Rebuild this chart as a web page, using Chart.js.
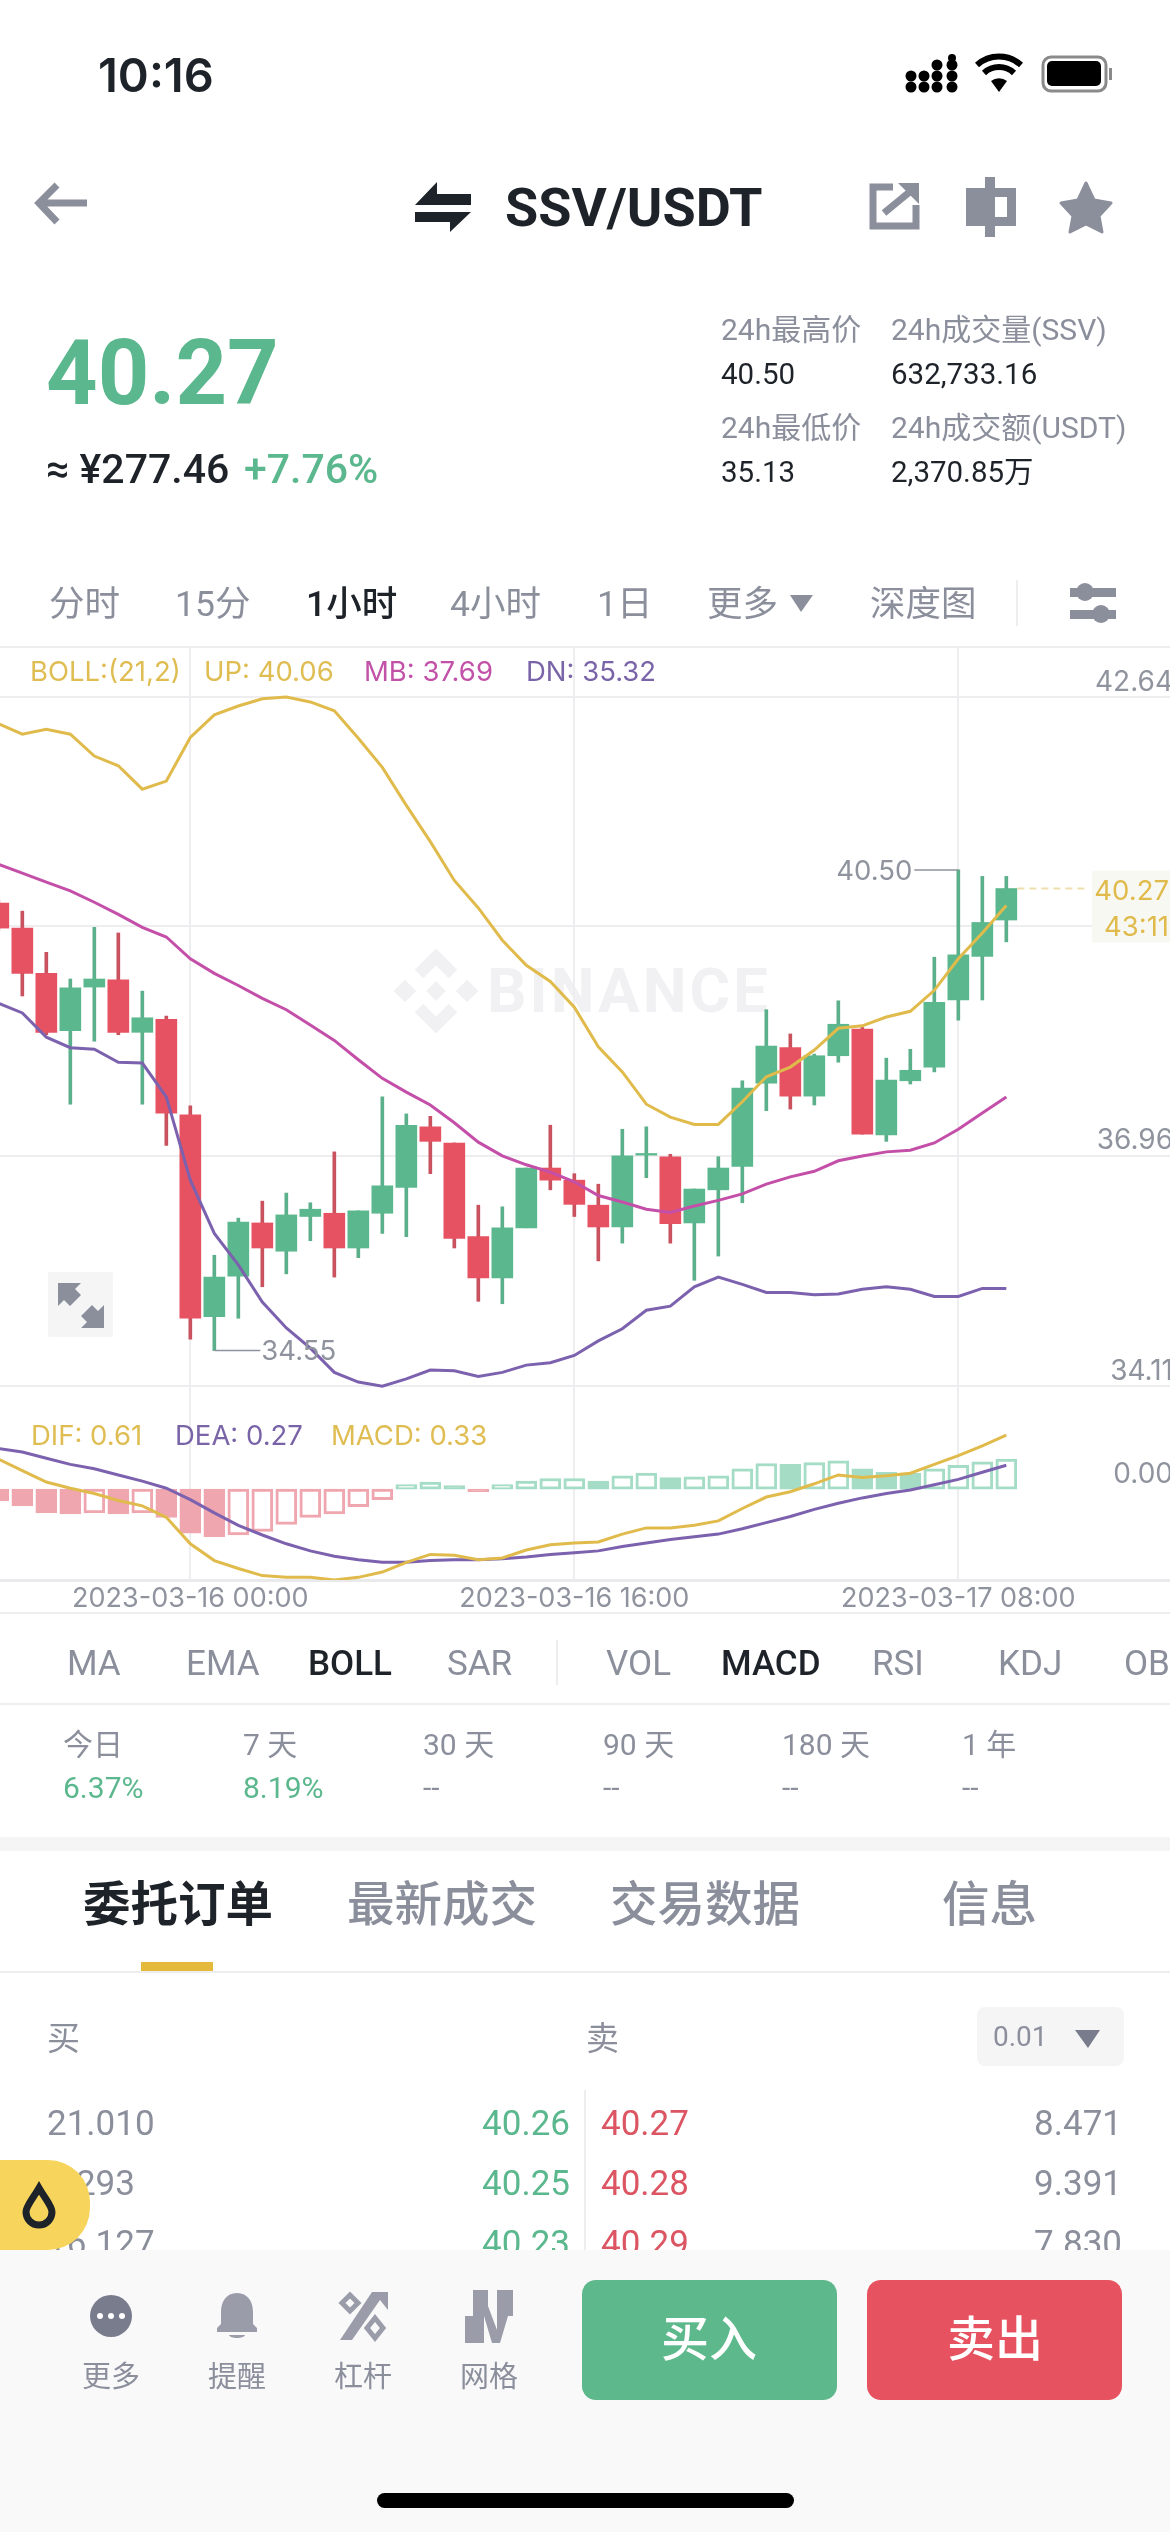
<!DOCTYPE html>
<html lang="zh-CN">
<head>
<meta charset="utf-8">
<title>SSV/USDT</title>
<script src="https://cdn.jsdelivr.net/npm/chart.js@4"></script>
<style>
  html, body { margin: 0; padding: 0; background: #fff; }
  #page { position: relative; width: 1170px; height: 2532px; overflow: hidden; background: #fff;
    font-family: Roboto, "Noto Sans CJK SC", sans-serif; color: #8B8F9C; }
  .t { position: absolute; white-space: nowrap; line-height: 1; transform: translateY(-50%); }
  .r { transform: translate(-100%, -50%); }
  .c { transform: translate(-50%, -50%); }
  .in { font-family: Inter, "Noto Sans CJK SC", sans-serif; font-size: 27.5px; }
  .tab { font-size: 35.5px; top: 605px; }
  .ind { font-size: 35px; top: 1663px; }
  .per { font-size: 30px; top: 1745px; }
  .pv { font-size: 30px; top: 1788px; }
  .head { font-size: 47.5px; top: 1906px; font-weight: 500; }
  .ob { font-size: 35px; }
  .hd { font-size: 33px; }
  .num { font-size: 29.5px; }
  .dark { color: #1E2329; }
  .up { color: #5BB78D; }
  .down { color: #DC5563; }
  .line { position: absolute; left: 0; width: 1170px; height: 2px; background: #EEEEF0; }
  .foot { font-size: 29px; top: 2377px; }
  #wm { position: absolute; left: 0; top: 0; z-index: 0; }
  #wmText { position: absolute; left: 487px; top: 991px; font-size: 62px; font-weight: 700; letter-spacing: 3px;
    color: #F1F1F3; transform: translateY(-50%); line-height: 1; z-index: 0; font-family: Roboto, sans-serif; }
  #klines { position: absolute; left: 0; top: 647px; z-index: 1; }
  #over { position: absolute; left: 0; top: 0; z-index: 2; }
  #texts { position: absolute; left: 0; top: 0; width: 1170px; height: 2532px; z-index: 3; }
  #tray { position: absolute; left: 0; top: 2250px; width: 1170px; height: 282px; background: #F9F9FA; z-index: 3; }
</style>
</head>
<body>
<div id="page">
  <svg id="wm" width="1170" height="2532">
    <g fill="#F1F1F3" transform="translate(436 991) rotate(45)">
      <rect x="-7" y="-7" width="14" height="14"/>
      <path d="M-30 -30h30v12h-18v18h-12z"/>
      <path d="M30 30h-30v-12h18v-18h12z"/>
      <rect x="14" y="-30" width="16" height="16"/>
      <rect x="-30" y="14" width="16" height="16"/>
    </g>
  </svg>
  <div id="wmText">BINANCE</div>
  <canvas id="klines" width="1170" height="967" style="width:1170px;height:967px"></canvas>

  <svg id="over" width="1170" height="2532">
    <!-- status bar -->
    <g fill="#000">
      <circle cx="911" cy="87" r="5.5"/><circle cx="911" cy="76" r="5.5"/>
      <circle cx="924" cy="87" r="5.5"/><circle cx="924" cy="76" r="5.5"/>
      <circle cx="937" cy="87" r="5.5"/><circle cx="937" cy="76" r="5.5"/><circle cx="937" cy="65" r="5.5"/>
      <circle cx="952" cy="87" r="5.5"/><circle cx="952" cy="76" r="5.5"/><circle cx="952" cy="65" r="5.5"/><circle cx="952" cy="58" r="4"/>
      <path d="M999 92l-8-11a13 13 0 0 1 16 0z"/>
      <rect x="1047" y="61" width="54" height="25" rx="5"/>
    </g>
    <g fill="none" stroke="#000" stroke-width="6">
      <path d="M984 73a22 22 0 0 1 30 0"/>
      <path d="M977 65a33 33 0 0 1 44 0"/>
    </g>
    <rect x="1043" y="57" width="63" height="34" rx="8" fill="none" stroke="#8A8A8A" stroke-width="3"/>
    <rect x="1109" y="68" width="3" height="12" fill="#8A8A8A"/>

    <!-- header icons -->
    <path d="M87 203H40M57 185L39 203L57 222" fill="none" stroke="#8B8F9C" stroke-width="7"/>
    <path d="M415 205L437 182V194H471V205ZM471 212L450 232V222H415V212Z" fill="#1E2329"/>
    <path d="M893 187H873V226H916V205" fill="none" stroke="#8B8F9C" stroke-width="7"/>
    <path d="M884 213L912 190" stroke="#8B8F9C" stroke-width="7"/>
    <path d="M898 183H919V204Z" fill="#8B8F9C"/>
    <rect x="966" y="188" width="50" height="38" fill="#8B8F9C"/>
    <rect x="985" y="177" width="10" height="60" fill="#8B8F9C"/>
    <rect x="995" y="197" width="12" height="20" fill="#fff"/>
    <path d="M1086 183L1094 200L1111 203L1099 216L1102 232L1086 224L1070 232L1073 216L1061 203L1078 200Z" fill="#8B8F9C" stroke="#8B8F9C" stroke-width="3" stroke-linejoin="round"/>

    <!-- tab icons -->
    <path d="M790 595H813L801 612Z" fill="#8B8F9C"/>
    <rect x="1016" y="580" width="2" height="46" fill="#EEEEF0"/>
    <g fill="#8B8F9C">
      <rect x="1070" y="588" width="46" height="9"/><circle cx="1085" cy="592" r="9"/>
      <rect x="1070" y="610" width="46" height="9"/><circle cx="1101" cy="614" r="9"/>
    </g>

    <!-- expand button -->
    <rect x="48" y="1272" width="65" height="65" fill="#F5F5F6" rx="2"/>
    <g fill="#8B8F9C">
      <path d="M58 1283H81L75 1289L81 1295L70 1306L64 1300L58 1306Z"/>
      <path d="M104 1328H81L87 1322L81 1316L92 1305L98 1311L104 1305Z"/>
    </g>

    <!-- depth selector + order book -->
    <rect x="977" y="2007" width="147" height="59" rx="8" fill="#F5F5F6"/>
    <path d="M1075 2030H1100L1088 2048Z" fill="#787C8C"/>
    <rect x="584" y="2090" width="2" height="160" fill="#EEEEF0"/>
    <rect x="141" y="1962" width="72" height="9" fill="#E5B93B"/>
  </svg>

  <div id="texts">
    <div class="t dark" style="left:98px;top:74px;font-size:47px;font-family:Inter,sans-serif;font-weight:600">10:16</div>
    <div class="t dark" style="left:505px;top:208px;font-size:54px;font-weight:700">SSV/USDT</div>

    <div class="t up" style="left:46px;top:374px;font-size:90px;font-weight:700">40.27</div>
    <div class="t dark" style="left:46px;top:469px;font-size:41px;font-weight:500">≈ ¥277.46</div>
    <div class="t up" style="left:244px;top:469px;font-size:41px;font-weight:500">+7.76%</div>

    <div class="t" style="left:721px;top:330px;font-size:30px">24h最高价</div>
    <div class="t dark num" style="left:721px;top:375px">40.50</div>
    <div class="t" style="left:721px;top:428px;font-size:30px">24h最低价</div>
    <div class="t dark num" style="left:721px;top:473px">35.13</div>
    <div class="t" style="left:891px;top:330px;font-size:30px">24h成交量(SSV)</div>
    <div class="t dark num" style="left:891px;top:375px">632,733.16</div>
    <div class="t" style="left:891px;top:428px;font-size:30px">24h成交额(USDT)</div>
    <div class="t dark num" style="left:891px;top:473px">2,370.85万</div>

    <div class="t tab" style="left:49px">分时</div>
    <div class="t tab" style="left:175px">15分</div>
    <div class="t tab dark" style="left:306px;font-weight:500">1小时</div>
    <div class="t tab" style="left:450px">4小时</div>
    <div class="t tab" style="left:597px">1日</div>
    <div class="t tab" style="left:707px">更多</div>
    <div class="t tab" style="left:870px">深度图</div>

    <div class="t in" style="left:30px;top:672px;color:#DFBD52">BOLL:(21,2)</div>
    <div class="t in" style="left:204px;top:672px;color:#DFBD52">UP: 40.06</div>
    <div class="t in" style="left:364px;top:672px;color:#C251A8">MB: 37.69</div>
    <div class="t in" style="left:526px;top:672px;color:#7A64A8">DN: 35.32</div>

    <div class="t in" style="left:31px;top:1436px;color:#DFBD52">DIF: 0.61</div>
    <div class="t in" style="left:175px;top:1436px;color:#7A64A8">DEA: 0.27</div>
    <div class="t in" style="left:331px;top:1436px;color:#DFBD52">MACD: 0.33</div>

    <div class="t ind" style="left:67px">MA</div>
    <div class="t ind" style="left:186px">EMA</div>
    <div class="t ind dark" style="left:308px;font-weight:500">BOLL</div>
    <div class="t ind" style="left:447px">SAR</div>
    <div class="t ind" style="left:606px">VOL</div>
    <div class="t ind dark" style="left:721px;font-weight:500">MACD</div>
    <div class="t ind" style="left:872px">RSI</div>
    <div class="t ind" style="left:998px">KDJ</div>
    <div class="t ind" style="left:1124px">OBV</div>

    <div class="t per" style="left:63px">今日</div>
    <div class="t per" style="left:243px">7 天</div>
    <div class="t per" style="left:423px">30 天</div>
    <div class="t per" style="left:603px">90 天</div>
    <div class="t per" style="left:782px">180 天</div>
    <div class="t per" style="left:962px">1 年</div>
    <div class="t pv up" style="left:63px">6.37%</div>
    <div class="t pv up" style="left:243px">8.19%</div>
    <div class="t pv" style="left:423px">--</div>
    <div class="t pv" style="left:603px">--</div>
    <div class="t pv" style="left:782px">--</div>
    <div class="t pv" style="left:962px">--</div>

    <div class="t head dark" style="left:83px;font-weight:700">委托订单</div>
    <div class="t head" style="left:347px">最新成交</div>
    <div class="t head" style="left:610px">交易数据</div>
    <div class="t head" style="left:942px">信息</div>

    <div class="t hd" style="left:47px;top:2038px">买</div>
    <div class="t hd" style="left:586px;top:2038px">卖</div>
    <div class="t" style="left:993px;top:2037px;font-size:28px">0.01</div>

    <div class="t ob" style="left:47px;top:2123px">21.010</div>
    <div class="t ob" style="left:47px;top:2183px">9.293</div>
    <div class="t ob" style="left:47px;top:2243px">16.127</div>
    <div class="t ob r up" style="left:570px;top:2123px">40.26</div>
    <div class="t ob r up" style="left:570px;top:2183px">40.25</div>
    <div class="t ob r up" style="left:570px;top:2243px">40.23</div>
    <div class="t ob down" style="left:601px;top:2123px">40.27</div>
    <div class="t ob down" style="left:601px;top:2183px">40.28</div>
    <div class="t ob down" style="left:601px;top:2243px">40.29</div>
    <div class="t ob r" style="left:1122px;top:2123px">8.471</div>
    <div class="t ob r" style="left:1122px;top:2183px">9.391</div>
    <div class="t ob r" style="left:1122px;top:2243px">7.830</div>

    <div style="position:absolute;left:0;top:2160px;width:90px;height:90px;background:#F7D55C;border-radius:0 42px 42px 0"></div>
    <svg style="position:absolute;left:0;top:2160px" width="90" height="90">
      <path d="M39 28C32 40 26 46 26 52A13 13 0 0 0 52 52C52 46 46 40 39 28Z" fill="none" stroke="#1E2329" stroke-width="7"/>
    </svg>
  </div>

  <div class="line" style="top:646px;z-index:2"></div>
  <div class="line" style="top:1612px;z-index:2"></div>
  <div class="line" style="top:1703px;z-index:2"></div>
  <div class="line" style="top:1971px;z-index:2"></div>
  <div style="position:absolute;left:0;top:1837px;width:1170px;height:14px;background:#F5F5F6;z-index:2"></div>
  <div style="position:absolute;left:556px;top:1640px;width:2px;height:45px;background:#EEEEF0;z-index:2"></div>

  <div id="tray">
    <svg width="1170" height="282" style="position:absolute;left:0;top:0">
      <g transform="translate(0 -2250)">
        <ellipse cx="111" cy="2316" rx="21" ry="21" fill="#787C8C"/>
        <g fill="#fff"><circle cx="100" cy="2316" r="3"/><circle cx="111" cy="2316" r="3"/><circle cx="122" cy="2316" r="3"/></g>
        <path d="M237 2293C226 2293 221 2302 221 2312V2324L217 2328V2332H257V2328L253 2324V2312C253 2302 248 2293 237 2293Z" fill="#9A9DA9"/>
        <path d="M229 2335H245C244 2339 230 2339 229 2335Z" fill="#9A9DA9"/>
        <path d="M340 2340L372 2292H388V2310L380 2300L352 2340Z" fill="#9A9DA9"/>
        <g fill="none" stroke="#9A9DA9" stroke-width="5">
          <path d="M350 2295L358 2303L350 2311L342 2303Z"/>
          <path d="M375 2318L383 2328L375 2338L367 2328Z"/>
        </g>
        <g fill="#9A9DA9">
          <path d="M473 2290H488V2306L497 2330V2290H513V2316H508L500 2343H492L484 2316V2343H465V2316H473Z"/>
        </g>
      </g>
    </svg>
    <div class="t foot" style="left:82px;top:127px">更多</div>
    <div class="t foot" style="left:208px;top:127px">提醒</div>
    <div class="t foot" style="left:334px;top:127px">杠杆</div>
    <div class="t foot" style="left:460px;top:127px">网格</div>
    <div style="position:absolute;left:582px;top:30px;width:255px;height:120px;border-radius:14px;background:#5DB88B"></div>
    <div style="position:absolute;left:867px;top:30px;width:255px;height:120px;border-radius:14px;background:#E6525F"></div>
    <div class="t c" style="left:709px;top:90px;font-size:48px;font-weight:500;color:#fff">买入</div>
    <div class="t c" style="left:995px;top:90px;font-size:48px;font-weight:500;color:#fff">卖出</div>
    <div style="position:absolute;left:377px;top:243px;width:417px;height:15px;border-radius:8px;background:#000"></div>
  </div>
</div>

<script>
// candles, oldest first, one per hour
const opens = [40.09,39.78,39.22,38.51,39.05,39.14,38.49,38.65,37.47,34.97,35.47,36.13,35.78,36.21,36.25,35.82,36.25,36.57,37.32,37.12,35.96,35.45,36.07,36.81,36.66,36.35,36.08,36.97,36.95,36.13,36.54,36.83,37.86,38.30,37.70,38.20,38.53,37.22,37.89,38.06,38.89,39.43,39.88];
const closes = [39.78,39.22,38.49,39.04,39.15,38.49,38.67,37.49,34.95,35.46,36.14,35.82,36.23,36.30,35.82,36.28,36.59,37.34,37.14,35.94,35.45,36.07,36.81,36.66,36.36,36.08,36.96,36.99,36.12,36.55,36.81,37.80,38.32,37.70,38.20,38.59,37.23,37.90,38.02,38.86,39.45,39.85,40.27];
const highs = [40.13,39.99,39.48,39.15,39.79,39.72,39.00,38.69,37.58,35.73,36.19,36.40,36.50,36.38,37.01,36.28,37.69,37.48,37.45,37.12,36.35,36.33,36.81,37.34,36.74,36.61,37.29,37.32,36.98,36.55,36.95,37.89,38.77,38.47,38.22,38.88,38.55,38.17,38.28,39.42,40.50,40.42,40.42];
const lows = [39.75,38.94,38.46,37.60,38.38,38.46,37.60,37.09,34.69,34.55,34.95,35.34,35.50,35.91,35.46,35.70,36.00,35.96,36.74,35.82,35.16,35.13,36.07,36.54,36.21,35.66,35.88,36.69,35.88,35.42,35.72,36.38,37.52,37.54,37.59,38.12,37.23,37.14,37.85,38.00,38.64,38.89,39.61];

const bollUp = [42.31,42.18,42.24,42.18,41.91,41.79,41.50,41.60,42.14,42.42,42.53,42.62,42.64,42.58,42.47,42.13,41.77,41.30,40.85,40.37,40.03,39.63,39.32,39.12,38.80,38.31,38.00,37.60,37.44,37.35,37.35,37.63,37.94,38.06,38.27,38.54,38.57,38.68,38.75,39.01,39.40,39.72,40.06];
const bollMid = [40.57,40.46,40.35,40.24,40.10,39.95,39.79,39.67,39.40,39.22,39.07,38.91,38.77,38.58,38.39,38.15,37.92,37.75,37.59,37.37,37.13,36.96,36.85,36.76,36.64,36.47,36.39,36.30,36.26,36.34,36.41,36.49,36.61,36.70,36.77,36.90,36.96,37.01,37.03,37.12,37.29,37.49,37.69];
const bollDn = [38.85,38.73,38.43,38.30,38.28,38.12,38.11,37.69,36.66,36.00,35.61,35.15,34.83,34.58,34.28,34.16,34.11,34.20,34.31,34.30,34.23,34.28,34.37,34.40,34.49,34.67,34.82,35.05,35.10,35.34,35.46,35.37,35.27,35.27,35.24,35.25,35.31,35.34,35.31,35.22,35.22,35.32,35.32];

const dif = [0.34,0.21,0.08,0.01,-0.05,-0.13,-0.19,-0.32,-0.62,-0.81,-0.90,-0.98,-1.00,-1.00,-1.03,-1.00,-0.94,-0.83,-0.74,-0.75,-0.80,-0.78,-0.69,-0.63,-0.61,-0.60,-0.51,-0.44,-0.44,-0.41,-0.36,-0.22,-0.09,-0.03,0.06,0.16,0.13,0.15,0.18,0.28,0.38,0.49,0.61];
const dea = [0.46,0.42,0.35,0.28,0.23,0.16,0.09,0.01,-0.12,-0.27,-0.41,-0.52,-0.62,-0.70,-0.76,-0.80,-0.83,-0.83,-0.81,-0.80,-0.80,-0.79,-0.77,-0.74,-0.72,-0.70,-0.65,-0.61,-0.57,-0.54,-0.51,-0.45,-0.38,-0.31,-0.23,-0.16,-0.10,-0.05,-0.01,0.05,0.11,0.19,0.27];
const macd = [-0.13,-0.19,-0.27,-0.28,-0.27,-0.28,-0.27,-0.32,-0.50,-0.54,-0.52,-0.48,-0.40,-0.32,-0.28,-0.20,-0.12,0.05,0.08,0.04,-0.03,0.05,0.09,0.12,0.12,0.09,0.15,0.18,0.13,0.14,0.15,0.23,0.29,0.28,0.30,0.32,0.23,0.19,0.18,0.23,0.27,0.31,0.34];

const priceTicks = [42.64, 39.80, 36.96, 34.11];
const macdTicks = [0];
const timeTickIndex = [8, 24, 40];
const timeTickLabels = ['2023-03-16 00:00', '2023-03-16 16:00', '2023-03-17 08:00'];
const countdown = '43:11';

const GREEN = '#5BB78D', RED = '#E65262';
const GREEN_WICK = '#5BAF8A', RED_WICK = '#C9525F';
const YELLOW = '#E0BB4C', MAGENTA = '#C44FA8', PURPLE = '#7C62AE';
const GRID = '#EEEEF0', LABEL = '#8F939E';
const CHART_FONT = 'Inter';

const isUp = i => closes[i] >= opens[i];
const hollow = i => i > 0 && macd[i] >= macd[i - 1];
const series = arr => arr.map((y, x) => ({ x, y }));
const bodies = opens.map((o, x) => ({ x, y: [Math.min(o, closes[x]), Math.max(o, closes[x])] }));
const wicks = highs.map((h, x) => ({ x, y: [lows[x], h] }));

function lineSet(data, color, axis) {
  return { type: 'line', data: series(data), yAxisID: axis, borderColor: color, borderWidth: 3, pointRadius: 0, tension: 0, order: 1 };
}

function zeroSize(scale) {
  scale.width = 0;
  scale.paddingTop = 0;
  scale.paddingBottom = 0;
}

// high / low leaders and the live price box
const priceMarks = {
  id: 'priceMarks',
  afterDatasetsDraw(chart) {
    const { ctx, scales: { x, y } } = chart;
    const hi = Math.max(...highs), lo = Math.min(...lows);
    const hiX = x.getPixelForValue(highs.indexOf(hi)), hiY = y.getPixelForValue(hi);
    const loX = x.getPixelForValue(lows.indexOf(lo)), loY = y.getPixelForValue(lo);
    const last = closes[closes.length - 1];
    const lastX = x.getPixelForValue(closes.length - 1), lastY = y.getPixelForValue(last);

    ctx.save();
    ctx.font = '27.5px ' + CHART_FONT;
    ctx.textBaseline = 'middle';
    ctx.lineWidth = 1.5;
    ctx.strokeStyle = '#8F939E';
    ctx.fillStyle = '#8F939E';

    ctx.beginPath();
    ctx.moveTo(hiX, hiY);
    ctx.lineTo(hiX - 44, hiY);
    ctx.moveTo(loX, loY);
    ctx.lineTo(loX + 46, loY);
    ctx.stroke();
    ctx.textAlign = 'right';
    ctx.fillText(hi.toFixed(2), hiX - 46, hiY + 2);
    ctx.textAlign = 'left';
    ctx.fillText(lo.toFixed(2), loX + 47, loY + 1);

    ctx.setLineDash([7, 5]);
    ctx.strokeStyle = '#F0DFAE';
    ctx.lineWidth = 2;
    ctx.beginPath();
    ctx.moveTo(lastX + 11, lastY);
    ctx.lineTo(lastX + 81, lastY);
    ctx.stroke();
    ctx.setLineDash([]);

    ctx.fillStyle = '#F8F8F3';
    ctx.fillRect(1092, lastY - 18, 78, 72);
    ctx.fillStyle = YELLOW;
    ctx.textAlign = 'right';
    ctx.fillText(last.toFixed(2), 1169, lastY + 3);
    ctx.fillText(countdown, 1169, lastY + 39);
    ctx.restore();
  }
};

new Chart(document.getElementById('klines'), {
  data: {
    datasets: [
      { type: 'bar', data: wicks, yAxisID: 'y', barThickness: 3, grouped: false, order: 5,
        backgroundColor: ctx => isUp(ctx.dataIndex) ? GREEN_WICK : RED_WICK },
      { type: 'bar', data: bodies, yAxisID: 'y', barThickness: 21, grouped: false, order: 4,
        backgroundColor: ctx => isUp(ctx.dataIndex) ? GREEN : RED },
      { type: 'bar', data: series(macd), yAxisID: 'yMacd', barThickness: 21, grouped: false, order: 4,
        borderWidth: 3, borderSkipped: false,
        borderColor: ctx => macd[ctx.dataIndex] >= 0 ? '#A5DCC5' : '#EFA6AF',
        backgroundColor: ctx => hollow(ctx.dataIndex) ? '#FFFFFF' : (macd[ctx.dataIndex] >= 0 ? '#A5DCC5' : '#EFA6AF') },
      lineSet(bollUp, YELLOW, 'y'),
      lineSet(bollMid, MAGENTA, 'y'),
      lineSet(bollDn, PURPLE, 'y'),
      lineSet(dif, YELLOW, 'yMacd'),
      lineSet(dea, PURPLE, 'yMacd')
    ]
  },
  plugins: [priceMarks],
  options: {
    responsive: false,
    devicePixelRatio: 1,
    animation: false,
    layout: { padding: 0 },
    plugins: { legend: { display: false }, tooltip: { enabled: false } },
    scales: {
      x: {
        type: 'linear', position: 'bottom', min: 0.07, max: 48.82, offset: false,
        border: { display: true, color: '#EAEAEC', width: 3 },
        grid: { offset: false, color: GRID, lineWidth: 2, drawTicks: false },
        afterBuildTicks: s => { s.ticks = timeTickIndex.map(value => ({ value })); },
        ticks: { autoSkip: false, maxRotation: 0, padding: 3, color: LABEL, font: { family: CHART_FONT, size: 27 },
          callback: (v, i) => timeTickLabels[i] },
        afterFit: s => { s.height = 34; s.paddingLeft = 0; s.paddingRight = 0; }
      },
      y: {
        type: 'linear', position: 'right', min: 31.71, max: 43.26,
        border: { display: false },
        grid: { color: GRID, lineWidth: 2, drawTicks: false },
        afterBuildTicks: s => { s.ticks = priceTicks.map(value => ({ value })); },
        ticks: { mirror: true, padding: 3, labelOffset: -15, color: LABEL, font: { family: CHART_FONT, size: 28 },
          callback: v => v.toFixed(2) },
        afterFit: zeroSize
      },
      yMacd: {
        type: 'linear', position: 'right', min: -1.03, max: 9.54,
        border: { display: false },
        grid: { display: false, drawTicks: false },
        afterBuildTicks: s => { s.ticks = macdTicks.map(value => ({ value })); },
        ticks: { mirror: true, padding: 3, labelOffset: -15, color: LABEL, font: { family: CHART_FONT, size: 28 },
          callback: v => v.toFixed(2) },
        afterFit: zeroSize
      }
    }
  }
});
</script>
</body>
</html>
